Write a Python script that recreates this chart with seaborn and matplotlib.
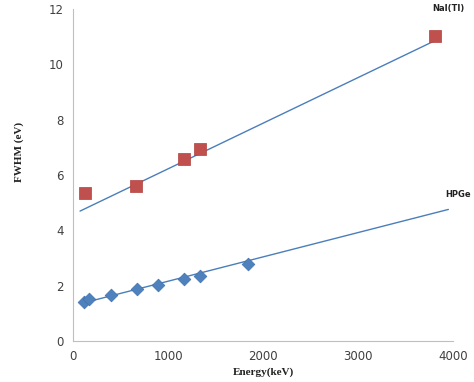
import numpy as np
import pandas as pd
import matplotlib
matplotlib.use("Agg")
import matplotlib.pyplot as plt
import seaborn as sns

# Data
nai_energy = [122, 667, 1172, 1333, 3807]
nai_fwhm = [5.34, 5.61, 6.58, 6.94, 11.03]
hpge_energy = [116, 172, 397, 670, 898, 1172, 1333, 1839]
hpge_fwhm = [1.42, 1.51, 1.65, 1.87, 2.03, 2.24, 2.37, 2.78]

# Trendlines (slope, intercept) and range
nai_trend = [0.00165, 4.578]
nai_trend_range = [74, 3800]
hpge_trend = [0.00088, 1.285]
hpge_trend_range = [108, 3950]

x_ticks = [0, 1000, 2000, 3000, 4000]
y_ticks = [0, 2, 4, 6, 8, 10, 12]

sns.set_style("white")
plt.rcParams['font.family'] = ['DejaVu Sans']

fig = plt.figure(figsize=(4.74, 3.82), dpi=100)
ax = fig.add_axes([0.154, 0.107, 0.802, 0.869])

line_color = "#4A7EBB"

def trend_df(params, rng):
    xs = np.array(rng, dtype=float)
    return pd.DataFrame({"x": xs, "y": params[0] * xs + params[1]})

sns.lineplot(data=trend_df(nai_trend, nai_trend_range), x="x", y="y",
             color=line_color, linewidth=1.0, ax=ax)
sns.lineplot(data=trend_df(hpge_trend, hpge_trend_range), x="x", y="y",
             color=line_color, linewidth=1.0, ax=ax)

sns.scatterplot(x=nai_energy, y=nai_fwhm, marker="s", s=75,
                color="#C0504D", edgecolor="#B0403D", linewidth=0.5, ax=ax, zorder=3)
sns.scatterplot(x=hpge_energy, y=hpge_fwhm, marker="D", s=42,
                color="#4F81BD", edgecolor="#3F71AD", linewidth=0.5, ax=ax, zorder=3)

ax.set_xlim(0, 4000)
ax.set_ylim(0, 12)
ax.set_xticks(x_ticks)
ax.set_yticks(y_ticks)
ax.tick_params(axis="both", labelsize=8.5, colors="#404040", length=3,
               width=0.8, direction="out")
ax.tick_params(axis="both", color="#BFBFBF")
for s in ["top", "right"]:
    ax.spines[s].set_visible(False)
for s in ["left", "bottom"]:
    ax.spines[s].set_color("#BFBFBF")
    ax.spines[s].set_linewidth(0.8)

ax.set_xlabel("Energy(keV)", fontsize=8, fontweight="bold",
              family="Liberation Serif", color="#222222", labelpad=3)
ax.set_ylabel("FWHM (eV)", fontsize=8, fontweight="bold",
              family="Liberation Serif", color="#222222")
ax.yaxis.set_label_coords(-0.128, 0.57)

ax.text(3785, 11.92, "NaI(Tl)", fontsize=6, fontweight="bold", color="#222222")
ax.text(3920, 5.2, "HPGe", fontsize=6, fontweight="bold", color="#222222",
        clip_on=False)

fig.savefig("out.png", dpi=100)
